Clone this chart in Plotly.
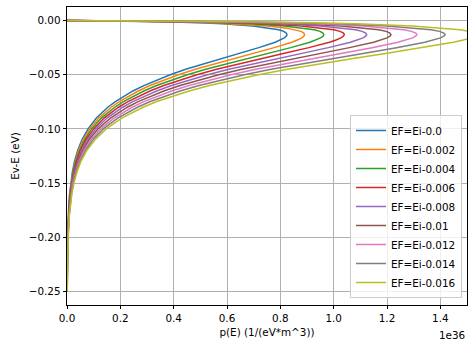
import plotly.graph_objects as go

# Energy relative to the valence band edge (eV), shared by every curve
energy = [0, -0.0003, -0.001, -0.002, -0.003, -0.005, -0.007, -0.0085, -0.01, -0.0115,
          -0.013, -0.0145, -0.016, -0.018, -0.02, -0.025, -0.03, -0.035, -0.04, -0.045,
          -0.05, -0.055, -0.06, -0.065, -0.07, -0.075, -0.08, -0.09, -0.10, -0.11,
          -0.12, -0.13, -0.14, -0.15, -0.16, -0.17, -0.18, -0.20, -0.22, -0.25]

# p(E) in units of 1e36 1/(eV*m^3)
p_0_000 = [0, .205, .364, .495, .584, .697, .764, .794, .813, .822, .825, .822, .815, .800, .781,
           .719, .649, .578, .509, .445, .387, .334, .288, .247, .211, .180, .153, .110, .079,
           .056, .040, .028, .020, .014, .0098, .0068, .0048, .0023, .0011, .0004]
p_0_002 = [0, .221, .393, .535, .630, .753, .825, .857, .878, .888, .891, .888, .880, .864, .843,
           .777, .701, .624, .550, .481, .418, .361, .311, .267, .228, .195, .166, .119, .085,
           .061, .043, .031, .022, .015, .0106, .0074, .0052, .0025, .0012, .0004]
p_0_004 = [0, .239, .425, .578, .681, .814, .891, .927, .949, .960, .963, .960, .951, .934, .911,
           .839, .758, .675, .594, .520, .451, .390, .336, .288, .246, .210, .179, .129, .092,
           .066, .047, .033, .023, .016, .0115, .0080, .0056, .0027, .0013, .0005]
p_0_006 = [0, .258, .459, .624, .736, .879, .963, 1.001, 1.024, 1.037, 1.040, 1.036, 1.027, 1.009,
           .984, .907, .819, .729, .642, .561, .487, .421, .363, .311, .266, .227, .193, .139,
           .100, .071, .050, .036, .025, .018, .0124, .0086, .0061, .0029, .0014, .0005]
p_0_008 = [0, .279, .496, .675, .795, .950, 1.040, 1.082, 1.107, 1.120, 1.124, 1.120, 1.110, 1.090,
           1.063, .980, .885, .788, .694, .607, .527, .455, .392, .336, .288, .245, .209, .150,
           .108, .077, .054, .039, .027, .019, .0134, .0093, .0065, .0031, .0015, .0006]
p_0_010 = [0, .302, .536, .729, .859, 1.027, 1.125, 1.169, 1.197, 1.211, 1.215, 1.211, 1.200, 1.178,
           1.150, 1.059, .956, .851, .750, .656, .569, .492, .424, .363, .311, .265, .226, .163,
           .116, .083, .059, .042, .029, .021, .0145, .0101, .0071, .0034, .0017, .0006]
p_0_012 = [0, .326, .579, .788, .928, 1.109, 1.214, 1.263, 1.292, 1.308, 1.312, 1.307, 1.296, 1.272,
           1.241, 1.144, 1.033, .919, .810, .708, .615, .532, .458, .392, .336, .286, .244, .176,
           .126, .090, .064, .045, .032, .022, .0156, .0109, .0076, .0037, .0018, .0007]
p_0_014 = [0, .352, .626, .851, 1.003, 1.198, 1.312, 1.365, 1.397, 1.413, 1.418, 1.413, 1.401, 1.375,
           1.342, 1.236, 1.116, .994, .875, .765, .665, .574, .495, .424, .363, .310, .264, .190,
           .136, .097, .069, .049, .034, .024, .0169, .0118, .0083, .0040, .0019, .0007]
p_0_016 = [0, .380, .676, .920, 1.084, 1.295, 1.418, 1.474, 1.509, 1.527, 1.532, 1.527, 1.513, 1.486,
           1.449, 1.335, 1.206, 1.073, .946, .827, .718, .621, .534, .458, .392, .334, .285, .205,
           .147, .105, .074, .052, .037, .026, .0182, .0127, .0089, .0043, .0021, .0008]

series_names = ["EF=Ei-0.0", "EF=Ei-0.002", "EF=Ei-0.004", "EF=Ei-0.006", "EF=Ei-0.008",
                "EF=Ei-0.01", "EF=Ei-0.012", "EF=Ei-0.014", "EF=Ei-0.016"]
series_values = [p_0_000, p_0_002, p_0_004, p_0_006, p_0_008, p_0_010, p_0_012, p_0_014, p_0_016]
colors = ["#1f77b4", "#ff7f0e", "#2ca02c", "#d62728", "#9467bd",
          "#8c564b", "#e377c2", "#7f7f7f", "#bcbd22"]

x_ticks = [0.0, 0.2, 0.4, 0.6, 0.8, 1.0, 1.2, 1.4]
y_ticks = [0.00, -0.05, -0.10, -0.15, -0.20, -0.25]

FONT = "DejaVu Sans"
FS = 10.4

fig = go.Figure()
for name, vals, c in zip(series_names, series_values, colors):
    fig.add_trace(go.Scatter(x=vals, y=energy, mode="lines", name=name,
                             line=dict(color=c, width=1.5)))

axis_common = dict(showline=True, mirror=True, linecolor="black", linewidth=0.8,
                   ticks="outside", ticklen=3.5, tickwidth=0.8, tickcolor="black",
                   showgrid=True, gridcolor="#b0b0b0", gridwidth=0.8, zeroline=False,
                   tickfont=dict(family=FONT, size=FS, color="black"))

fig.update_layout(
    width=474, height=348,
    margin=dict(l=67, r=7, t=7, b=43),
    paper_bgcolor="white", plot_bgcolor="white",
    font=dict(family=FONT, size=FS, color="black"),
    xaxis=dict(range=[0, 1.5], tickvals=x_ticks, tickformat=".1f",
               title=dict(text="p(E) (1/(eV*m^3))", standoff=5,
                          font=dict(family=FONT, size=FS)),
               **axis_common),
    yaxis=dict(range=[-0.2625, 0.0125], tickvals=y_ticks, tickformat=".2f",
               title=dict(text="Ev-E (eV)", standoff=7,
                          font=dict(family=FONT, size=FS)),
               **axis_common),
    legend=dict(x=0.9875, y=0.0235, xanchor="right", yanchor="bottom",
                bgcolor="rgba(255,255,255,0.8)", bordercolor="#cccccc", borderwidth=1,
                font=dict(family=FONT, size=FS, color="black"), itemwidth=30),
    showlegend=True,
    annotations=[dict(text="1e36", xref="paper", yref="paper", x=1.0, y=-0.1,
                      xanchor="right", yanchor="middle", showarrow=False,
                      font=dict(family=FONT, size=FS, color="black"))],
)

fig.write_html("out.html")
